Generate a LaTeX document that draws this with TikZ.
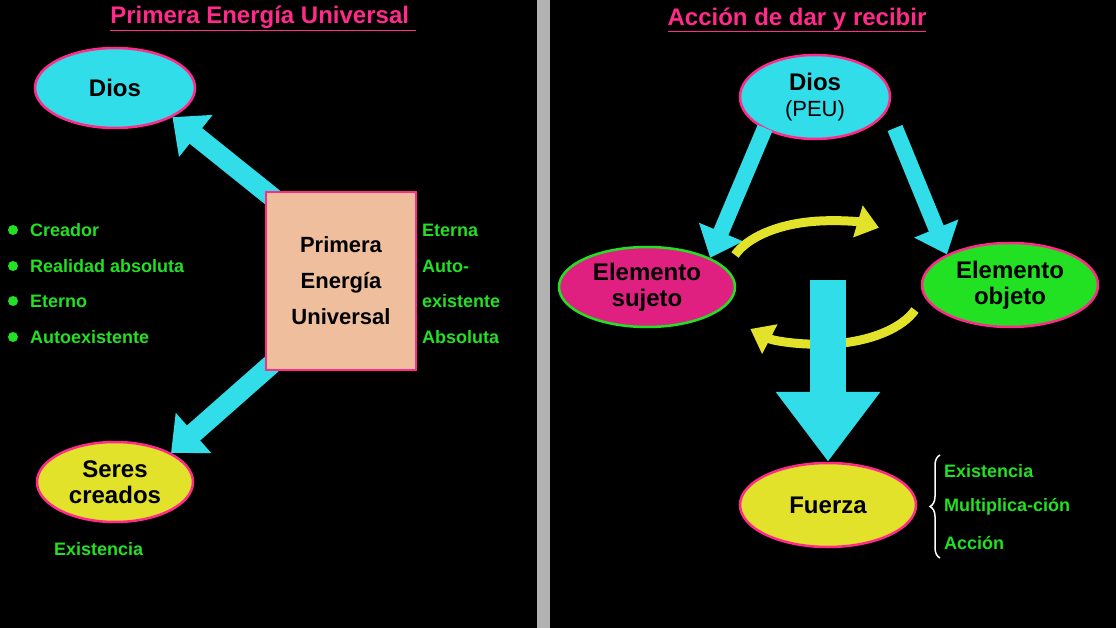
\documentclass[tikz,border=0pt]{standalone}
\usepackage{fontspec}
\setmainfont{Liberation Sans}
\usetikzlibrary{arrows.meta,decorations.pathreplacing,shapes.geometric}
\definecolor{cy}{HTML}{30DDE8}
\definecolor{mg}{HTML}{FF2A8A}
\definecolor{gr}{HTML}{22E022}
\definecolor{yl}{HTML}{E2E22A}
\definecolor{pe}{HTML}{EFBE9C}
\definecolor{sj}{HTML}{E02080}
\tikzset{
 ell/.style={ellipse,draw=mg,line width=2.5pt,font=\bfseries\fontsize{24}{26}\selectfont,align=center,inner sep=0pt},
 gtxt/.style={text=gr,font=\bfseries\fontsize{18}{20}\selectfont,anchor=west,inner sep=0pt},
 ttl/.style={text=mg,font=\bfseries\fontsize{24}{26}\selectfont},
 bigarr/.style={cy,line width=20pt,-{Triangle[length=30pt,width=52pt]}},
}
\begin{document}
\begin{tikzpicture}[x=1pt,y=-1pt]
\useasboundingbox (0,0) rectangle (1116,628);
\fill[black] (0,0) rectangle (1116,628);
\fill[gray!60] (537,0) rectangle (550,628);
% titles
\node[ttl] (t1) at (263,18) {\underline{Primera Energía Universal\ }};
\node[ttl] (t2) at (797,20) {\underline{Acción de dar y recibir}};
% left
\node[ell,fill=cy,minimum width=160pt,minimum height=80pt] (dios) at (115,88) {Dios};
\node[ell,fill=yl,minimum width=156pt,minimum height=80pt] (seres) at (115,482) {Seres\\creados};
\coordinate (a1) at (282,205); \coordinate (a2) at (282,355);
\draw[bigarr] (a1) -- (dios.south east);
\draw[bigarr] (a2) -- (seres.north east);
\node[draw=mg,line width=2.5pt,fill=pe,minimum width=150pt,minimum height=178pt,align=center,font=\bfseries\fontsize{22}{36}\selectfont] (box) at (341,281) {Primera\\Energía\\Universal};
\foreach \t/\y [count=\i] in {Creador/230,Realidad absoluta/266,Eterno/301,Autoexistente/337}{
 \fill[gr] (13,\y) circle (5pt);
 \node[gtxt] (b\i) at (30,\y) {\t};
}
\foreach \t/\y [count=\i] in {Eterna/230,Auto-/266,existente/301,Absoluta/337}
 \node[gtxt] (r\i) at (422,\y) {\t};
\node[gtxt] (ex) at (54,549) {Existencia};
% right
\node[ell,fill=cy,minimum width=150pt,minimum height=84pt] (dios2) at (815,97) {Dios\\{\mdseries\fontsize{22}{24}\selectfont(PEU)}};
\node[ell,fill=sj,draw=gr,minimum width=176pt,minimum height=80pt] (suj) at (647,287) {Elemento\\sujeto};
\node[ell,fill=gr,minimum width=176pt,minimum height=84pt] (obj) at (1010,285) {Elemento\\objeto};
\coordinate (d1) at (765,128); \coordinate (d2) at (895,128);
\draw[bigarr,line width=16pt,-{Triangle[length=28pt,width=46pt]}] (d1) -- (suj.north east);
\draw[bigarr,line width=16pt,-{Triangle[length=28pt,width=46pt]}] (d2) -- (obj.north west);
% yellow cycle
\draw[yl,line width=9pt,-{Triangle[length=22pt,width=32pt]}] (735,255) arc[start angle=160,end angle=60,x radius=100pt,y radius=52pt];
\draw[yl,line width=9pt,-{Triangle[length=22pt,width=32pt]}] (915,310) arc[start angle=-20,end angle=-135,x radius=100pt,y radius=52pt];
\coordinate (c1) at (828,280);
\node[ell,fill=yl,minimum width=176pt,minimum height=84pt] (fu) at (828,505) {Fuerza};
\draw[cy,line width=36pt,-{Triangle[length=70pt,width=100pt]}] (c1) -- (fu.north);
\draw[white,line width=1.5pt,decorate,decoration={brace,amplitude=10pt}] (940,558) -- (940,455);
\node[gtxt] (e1) at (944,471) {Existencia};
\node[gtxt] (e2) at (944,507) {Multiplica-ción};
\node[gtxt] (e3) at (944,543) {Acción};
\end{tikzpicture}
\end{document}
